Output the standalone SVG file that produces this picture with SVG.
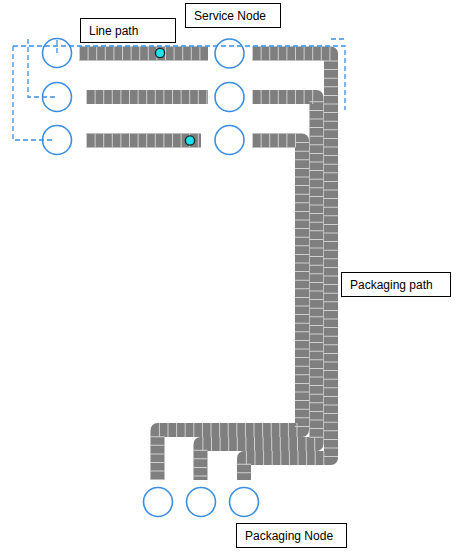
<svg xmlns="http://www.w3.org/2000/svg" width="473" height="559" viewBox="0 0 473 559">
<style>
.node{fill:none;stroke:#3b8fe3;stroke-width:1.6}
.base{fill:none;stroke:#7f7f7f;stroke-width:14;stroke-linejoin:round}
.stripe{fill:none;stroke:#cfcfcf;stroke-width:14;stroke-dasharray:1 7.6}
.sel{fill:none;stroke:#3b8fe3;stroke-width:1.3;stroke-dasharray:5 3}
.lbl{fill:#fff;stroke:#000;stroke-width:1}
.txt{font-family:"Liberation Sans",Arial,sans-serif;font-size:12px;fill:#000}
.dot{fill:#1de3ee;stroke:#1a2a2a;stroke-width:1.4}
</style>
<rect width="473" height="559" fill="#fff"/>
<g id="connectors">
  <path class="base" d="M79,53.5 H208"/>
  <path class="stripe" d="M79,53.5 H208"/>
  <path class="base" d="M86,97 H208"/>
  <path class="stripe" d="M86,97 H208"/>
  <path class="base" d="M86,140.5 H201"/>
  <path class="stripe" d="M86,140.5 H201"/>
  <path class="base" d="M252,53.5 H331 V458 H244 V480"/>
  <path class="stripe" d="M252,53.5 H331 V458 H244 V480"/>
  <path class="base" d="M252,97 H316.5 V444 H200.5 V480"/>
  <path class="stripe" d="M252,97 H316.5 V444 H200.5 V480"/>
  <path class="base" d="M252,140.5 H302 V430 H157.5 V480"/>
  <path class="stripe" d="M252,140.5 H302 V430 H157.5 V480"/>
</g>
<g id="line-nodes">
  <circle class="node" cx="57" cy="53" r="14.5"/>
  <circle class="node" cx="57" cy="97" r="14.5"/>
  <circle class="node" cx="57" cy="140" r="14.5"/>
</g>
<g id="service-nodes">
  <circle class="node" cx="229.5" cy="53.5" r="14.5"/>
  <circle class="node" cx="229.5" cy="97" r="14.5"/>
  <circle class="node" cx="229.5" cy="140" r="14.5"/>
</g>
<g id="packaging-nodes">
  <circle class="node" cx="158" cy="502" r="14.5"/>
  <circle class="node" cx="201" cy="502" r="14.5"/>
  <circle class="node" cx="244" cy="502" r="14.5"/>
</g>
<g id="selection">
  <path class="sel" d="M13,46 H345 V110"/>
  <path class="sel" d="M13,46 V140 H55"/>
  <path class="sel" d="M28,39 V97 H57"/>
  <path class="sel" d="M57,40 V53"/>
  <path class="sel" d="M331,39 H347"/>
</g>
<g id="carriers">
  <circle class="dot" cx="160" cy="53" r="4.6"/>
  <circle class="dot" cx="190" cy="140.5" r="4.6"/>
</g>
<g id="label-line-path">
  <rect class="lbl" x="80.5" y="18.5" width="95" height="24"/>
  <text class="txt" x="89" y="35">Line path</text>
</g>
<g id="label-service-node">
  <rect class="lbl" x="185.5" y="3.5" width="95" height="24"/>
  <text class="txt" x="194" y="20">Service Node</text>
</g>
<g id="label-packaging-path">
  <rect class="lbl" x="341.5" y="272.5" width="109" height="24"/>
  <text class="txt" x="350" y="289">Packaging path</text>
</g>
<g id="label-packaging-node">
  <rect class="lbl" x="236.5" y="523.5" width="110" height="24"/>
  <text class="txt" x="245" y="540">Packaging Node</text>
</g>
</svg>
